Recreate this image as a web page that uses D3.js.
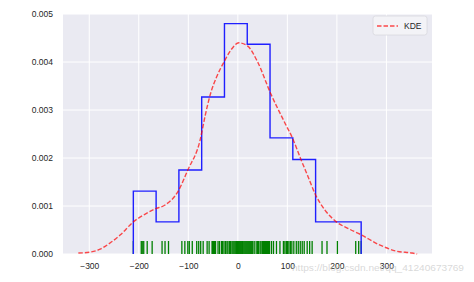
<!DOCTYPE html>
<html>
<head>
<meta charset="utf-8">
<script src="https://cdn.jsdelivr.net/npm/d3@7"></script>
<style>
    body { margin: 0; background: #ffffff; }
    text { font-family: "Liberation Sans", Arial, sans-serif; }
</style>
</head>
<body>
<div id="chart"></div>
<script>
// Histogram bins (edges) and density heights
var binEdges = [-211, -165, -119, -73, -27, 19, 65, 111, 157, 203, 249];
var binDensity = [0.00131, 0.00067, 0.00175, 0.00327, 0.0048, 0.00437, 0.00242, 0.00197, 0.00067, 0.00067];

// KDE curve
var kdeX = [-322, -298, -278, -258, -237, -211, -187, -167, -147, -121, -101, -76, -66, -56, -42, -28, -14, 2, 20, 40, 66, 95, 111, 127, 141, 157, 177, 199, 225, 249, 286, 320, 352, 362];
var kdeY = [0.00002, 0.00004, 0.0001, 0.00023, 0.0004, 0.00067, 0.00083, 0.00094, 0.00102, 0.0013, 0.00175, 0.00238, 0.00288, 0.00331, 0.00371, 0.004, 0.00425, 0.0044, 0.00433, 0.004, 0.00335, 0.00273, 0.0024, 0.00198, 0.00163, 0.00123, 0.0009, 0.00067, 0.00052, 0.0004, 0.00019, 0.00006, 0.00002, 0.0];

// Rug (individual observations)
var rugValues = [-211, -195, -193, -190, -183, -173,
    -153, -147, -140,
    -113, -107, -101, -98, -92, -83, -79, -75,
    -70, -62, -58, -52, -51, -50, -49, -48, -47, -45, -40, -37, -33, -31, -28,
    -25, -22, -20, -17, -15, -12, -10, -8, -6, -4, -3, -1, 1, 3, 5, 7, 9, 10, 12, 14, 16, 18,
    20, 22, 24, 26, 28, 30, 33, 37, 40, 42, 45, 47, 50, 52, 54, 56, 58, 60, 62, 64,
    68, 72, 78, 85, 92, 95, 98, 100, 103, 106, 109,
    113, 118, 122, 126, 130, 134, 140, 145, 150,
    170, 180, 201,
    238, 244, 249];

var xTicks = [-300, -200, -100, 0, 100, 200, 300];
var yTicks = [0, 0.001, 0.002, 0.003, 0.004, 0.005];
var legendLabel = "KDE";

// Layout
var width = 474, height = 282;
var margin = { top: 14, right: 42, bottom: 28, left: 63 };
var innerWidth = width - margin.left - margin.right;
var innerHeight = height - margin.top - margin.bottom;

var x = d3.scaleLinear().domain([-353, 392]).range([0, innerWidth]);
var y = d3.scaleLinear().domain([0, 0.005]).range([innerHeight, 0]);

var svg = d3.select("#chart").append("svg")
    .attr("width", width)
    .attr("height", height);

var g = svg.append("g")
    .attr("transform", `translate(${margin.left}, ${margin.top})`);

// seaborn darkgrid background
g.append("rect")
    .attr("width", innerWidth)
    .attr("height", innerHeight)
    .attr("fill", "#eaeaf2");

// grid lines
g.selectAll(".xgrid").data(xTicks).enter().append("line")
    .attr("x1", d => x(d)).attr("x2", d => x(d))
    .attr("y1", 0).attr("y2", innerHeight)
    .attr("stroke", "#ffffff").attr("stroke-width", 1);

g.selectAll(".ygrid").data(yTicks).enter().append("line")
    .attr("x1", 0).attr("x2", innerWidth)
    .attr("y1", d => y(d)).attr("y2", d => y(d))
    .attr("stroke", "#ffffff").attr("stroke-width", 1);

// axes (no lines, only labels)
var xAxis = g.append("g")
    .attr("transform", `translate(0, ${innerHeight})`)
    .call(d3.axisBottom(x).tickValues(xTicks).tickSize(0).tickPadding(9).tickFormat(d3.format("d")));
var yAxis = g.append("g")
    .call(d3.axisLeft(y).tickValues(yTicks).tickSize(0).tickPadding(10).tickFormat(d3.format(".3f")));

[xAxis, yAxis].forEach(function (ax) {
    ax.select(".domain").remove();
    ax.selectAll("text")
        .attr("fill", "#262626")
        .style("font-size", "8.5px")
        .style("font-family", "'Liberation Sans', Arial, sans-serif");
});

// rug
g.selectAll(".rug").data(rugValues).enter().append("line")
    .attr("x1", d => x(d)).attr("x2", d => x(d))
    .attr("y1", innerHeight).attr("y2", innerHeight - 13)
    .attr("stroke", "green").attr("stroke-width", 1.3);

// step histogram outline
var stepPts = [[binEdges[0], 0]];
binDensity.forEach(function (h, i) {
    stepPts.push([binEdges[i], h]);
    stepPts.push([binEdges[i + 1], h]);
});
stepPts.push([binEdges[binEdges.length - 1], 0]);

g.append("path")
    .datum(stepPts)
    .attr("fill", "none")
    .attr("stroke", "#1f1fff")
    .attr("stroke-width", 1.4)
    .attr("d", d3.line().x(d => x(d[0])).y(d => y(d[1])));

// KDE line
var kdePts = kdeX.map((d, i) => [d, kdeY[i]]);
g.append("path")
    .datum(kdePts)
    .attr("fill", "none")
    .attr("stroke", "red")
    .attr("stroke-opacity", 0.7)
    .attr("stroke-width", 1.4)
    .attr("stroke-dasharray", "4.5,2")
    .attr("d", d3.line().curve(d3.curveMonotoneX).x(d => x(d[0])).y(d => y(d[1])));

// legend
var legend = g.append("g").attr("transform", `translate(${innerWidth - 59}, 2)`);
legend.append("rect")
    .attr("width", 54).attr("height", 19)
    .attr("rx", 2.5)
    .attr("fill", "#f3f3f7")
    .attr("stroke", "#d8d8de")
    .attr("stroke-width", 0.8);
legend.append("line")
    .attr("x1", 4).attr("x2", 25).attr("y1", 10).attr("y2", 10)
    .attr("stroke", "red").attr("stroke-opacity", 0.7)
    .attr("stroke-width", 1.4).attr("stroke-dasharray", "4.5,2");
legend.append("text")
    .attr("x", 31).attr("y", 13)
    .attr("fill", "#262626")
    .style("font-size", "8.5px")
    .text(legendLabel);

// faint watermark
svg.append("text")
    .attr("x", 292).attr("y", 271)
    .attr("fill", "#c8c8c8")
    .attr("fill-opacity", 0.7)
    .attr("textLength", 172)
    .attr("lengthAdjust", "spacingAndGlyphs")
    .style("font-size", "9.5px")
    .text("https://blog.csdn.net/qq_41240673769");
</script>
</body>
</html>
